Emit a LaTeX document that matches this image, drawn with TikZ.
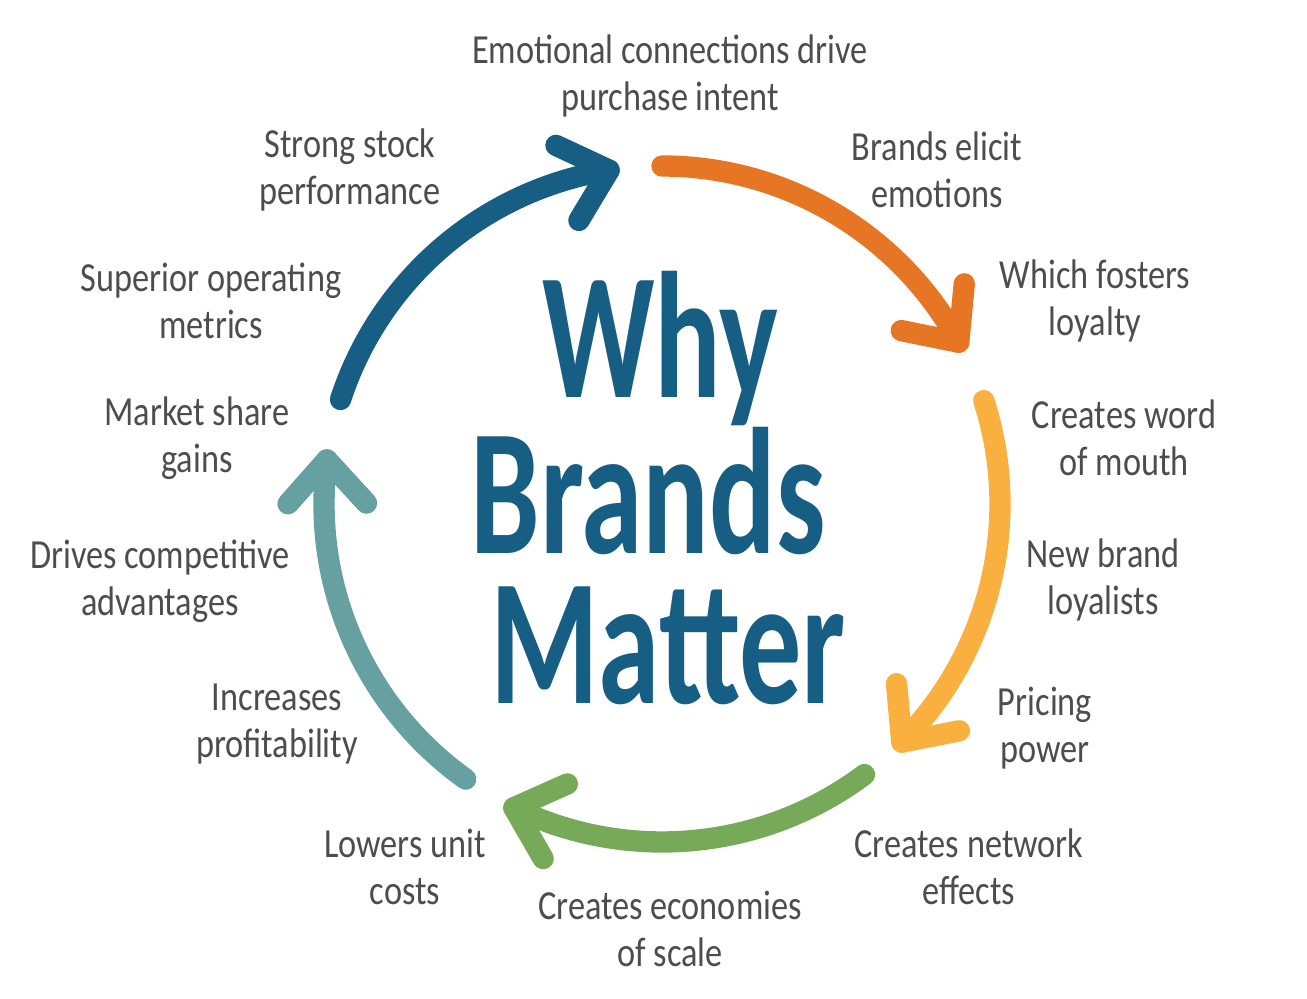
\documentclass[tikz,border=0pt]{standalone}
\usepackage{fontspec}
\setmainfont{Carlito}[FakeStretch=0.83]
\newfontfamily\titlefont{Carlito}[FakeStretch=0.69]
\usetikzlibrary{calc}
\definecolor{cBlue}{RGB}{22,94,131}
\definecolor{cOrange}{RGB}{230,118,36}
\definecolor{cYellow}{RGB}{249,176,62}
\definecolor{cGreen}{RGB}{118,170,88}
\definecolor{cTeal}{RGB}{103,160,160}
\definecolor{cText}{RGB}{77,77,80}
\tikzset{
  arrowline/.style={line width=16pt, line cap=round, line join=round},
  label/.style={align=center, text=cText, inner sep=0pt,
    font=\fontsize{31}{35.5}\selectfont},
  titlebox/.style={align=center, text=cBlue, inner sep=0pt,
    font=\titlefont\bfseries\fontsize{135}{112.5}\selectfont},
}
\begin{document}
\begin{tikzpicture}[x=0.75pt, y=0.75pt]
\path[use as bounding box, fill=white] (0,0) rectangle (1307,999);
\coordinate (C) at (662,495);

\foreach \n/\a/\b/\c in {blue/162/99/cBlue, orange/90/28.6/cOrange,
    yellow/17.8/-44.8/cYellow, green/-53.2/-116/cGreen, teal/234.5/172.5/cTeal} {
  \coordinate (\n-s) at ($(C)+(\a:253.5pt)$);
  \coordinate (\n-t) at ($(C)+(\b:253.5pt)$);
  \coordinate (\n-h1) at ($(\n-t)+({\b+98+42}:44pt)$);
  \coordinate (\n-h2) at ($(\n-t)+({\b+98-42}:44pt)$);
  \draw[arrowline, draw=\c] (\n-s) arc[start angle=\a, end angle=\b, radius=253.5pt];
  \draw[arrowline, draw=\c] (\n-h1) -- (\n-t) -- (\n-h2);
}

\node[titlebox] (title) at (660,{999-488}) {Why\\Brands\kern18pt\\\kern12pt Matter};

\node[label] (l1) at (670,{999-76}) {Emotional connections drive\\purchase intent};
\node[label] (l2) at (937,{999-170}) {Brands elicit\\emotions};
\node[label] (l3) at (1095,{999-301}) {Which fosters\\loyalty};
\node[label] (l4) at (1124,{999-438}) {Creates word\\of mouth};
\node[label] (l5) at (1103,{999-580}) {New brand\\loyalists};
\node[label] (l6) at (1045,{999-728}) {Pricing\\power};
\node[label] (l7) at (969,{999-867}) {Creates network\\effects};
\node[label] (l8) at (670,{999-929}) {Creates economies\\of scale};
\node[label] (l9) at (405,{999-867}) {Lowers unit\\costs};
\node[label] (l10) at (277,{999-724}) {Increases\\profitability};
\node[label] (l11) at (160,{999-581}) {Drives competitive\\advantages};
\node[label] (l12) at (197,{999-438}) {Market share\\gains};
\node[label] (l13) at (211,{999-301}) {Superior operating\\metrics};
\node[label] (l14) at (350,{999-170}) {Strong stock\\performance};
\end{tikzpicture}
\end{document}
